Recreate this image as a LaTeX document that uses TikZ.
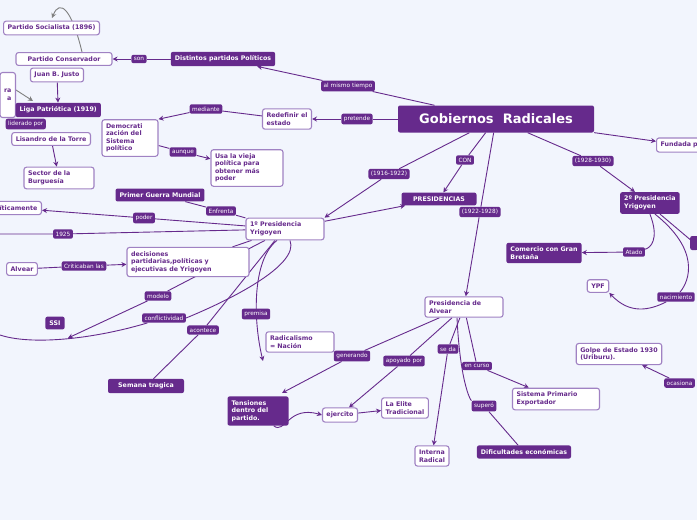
\documentclass[tikz,border=0pt]{standalone}
\usepackage{fontspec}
\setmainfont{DejaVu Sans}
\usetikzlibrary{arrows.meta,backgrounds}
\definecolor{pu}{RGB}{102,42,140}
\definecolor{pl}{RGB}{160,130,195}
\definecolor{bg}{RGB}{242,245,253}
\tikzset{
 wn/.style={draw=pl,line width=1.1pt,fill=white,rounded corners=2.5pt,text=pu,font=\bfseries\fontsize{6.3}{7.5}\selectfont,align=left,inner sep=4pt},
 pn/.style={fill=pu,rounded corners=2pt,text=white,font=\bfseries\fontsize{6.3}{7.5}\selectfont,align=left,inner sep=4pt},
 lb/.style={fill=pu,rounded corners=2pt,text=white,font=\fontsize{5.8}{6.8}\selectfont,inner sep=2.5pt},
 ed/.style={draw=pu,line width=0.9pt},
 ar/.style={ed,-{Stealth[length=5pt,width=5pt]}},
}
\begin{document}
\begin{tikzpicture}[x=1pt,y=-1pt]
\useasboundingbox (0,0) rectangle (697,520);
% nodes
\node[pn,font=\bfseries\fontsize{13}{15}\selectfont,minimum width=196pt,minimum height=27pt,align=center] (title) at (496,119) {Gobiernos~~Radicales};
\node[wn,anchor=east] (soc) at (100,28) {Partido Socialista (1896)};
\node[wn,minimum width=96pt,align=center] (pc) at (64,59) {Partido Conservador};
\node[wn] (jbj) at (57,75) {Juan B. Justo};
\node[wn,anchor=east,minimum height=45pt,align=right] (lft) at (16,95) {ra\\a};
\node[pn,anchor=east] (liga) at (101,110) {Liga Patriótica (1919)};
\node[lb,anchor=east] (lid) at (46,124) {liderado por};
\node[wn,anchor=east] (lis) at (91,139) {Lisandro de la Torre};
\node[wn,text width=62pt] (sec) at (59,178) {Sector de la\\Burguesía};
\node[pn] (dis) at (223,59) {Distintos partidos Políticos};
\node[lb] (son) at (139,59) {son};
\node[lb] (amt) at (348,86) {al mismo tiempo};
\node[wn] (red) at (287,119) {Redefinir el\\estado};
\node[lb] (pre) at (357,119) {pretende};
\node[lb] (med) at (206,109) {mediante};
\node[wn,text width=48pt] (dem) at (130,138) {Democrati\\zación del\\Sistema\\político};
\node[lb] (aun) at (183,152) {aunque};
\node[wn,text width=64pt] (usa) at (247,168) {Usa la vieja\\política para\\obtener más\\poder};
\node[pn] (pgm) at (160,195) {Primer Guerra Mundial};
\node[lb] (enf) at (221,211) {Enfrenta};
\node[wn,anchor=east] (pol) at (42,208) {Políticamente};
\node[lb] (pod) at (144,218) {poder};
\node[lb] (y25) at (63,234) {1925};
\node[wn,text width=70pt] (p1) at (285,229) {1º Presidencia\\Yrigoyen};
\node[wn] (alv) at (22,269) {Alvear};
\node[lb] (cri) at (84,266) {Criticaban las};
\node[wn,text width=114pt] (dec) at (188,262) {decisiones\\partidarias,políticas y\\ejecutivas de Yrigoyen};
\node[lb] (mod) at (158,296) {modelo};
\node[pn] (ssi) at (55,323) {SSI};
\node[lb] (con) at (164,318) {conflictividad};
\node[lb] (aco) at (203,330) {acontece};
\node[lb] (prem) at (256,314) {premisa};
\node[wn,text width=60pt] (rad) at (300,342) {Radicalismo\\= Nación};
\node[pn,minimum width=76pt,align=center] (sem) at (146,386) {Semana tragica};
\node[pn,text width=53pt] (ten) at (258,411) {Tensiones\\dentro del\\partido.};
\node[wn] (eje) at (340,415) {ejercito};
\node[wn] (eli) at (405,408) {La Elite\\Tradicional};
\node[lb] (gen) at (352,356) {generando};
\node[lb] (apo) at (404,361) {apoyado por};
\node[wn,text width=70pt] (pal) at (464,307) {Presidencia de\\Alvear};
\node[lb] (seda) at (448,349) {se da};
\node[lb] (encu) at (477,366) {en curso};
\node[lb] (sup) at (484,406) {superó};
\node[wn,text width=79pt] (spe) at (556,399) {Sistema Primario\\Exportador};
\node[wn] (int) at (432,456) {Interna\\Radical};
\node[pn] (dif) at (524,452) {Dificultades económicas};
\node[lb] (CON) at (465,160) {CON};
\node[lb] (l16) at (389,174) {(1916-1922)};
\node[pn,minimum width=75pt] (pres) at (439,199) {PRESIDENCIAS};
\node[lb] (l22) at (480,212) {(1922-1928)};
\node[lb] (l28) at (593,161) {(1928-1930)};
\node[wn,anchor=west] (fun) at (656,145) {Fundada por};
\node[pn,anchor=west] (p2) at (620,203) {2º Presidencia\\Yrigoyen};
\node[pn] (com) at (544,253) {Comercio con Gran\\Bretaña};
\node[lb] (ata) at (634,252) {Atado};
\node[wn] (ypf) at (598,286) {YPF};
\node[lb] (nac) at (676,297) {nacimiento};
\node[wn] (gol) at (619,354) {Golpe de Estado 1930\\(Uriburu).};
\node[lb,anchor=west] (oca) at (664,383) {ocasiona};
\node[pn,anchor=west,minimum height=14pt] (rp) at (690,243) {};
\begin{pgfonlayer}{background}
\fill[bg] (0,0) rectangle (697,520);
\draw[ar,gray] (pc.north) ++(18,0) .. controls (72,10) and (60,-2) .. (52,18);
\draw[ar,gray] (lft.east) ++(0,-5) -- (33,101);
\draw[ed] (title) -- (amt); \draw[ar] (amt) -- (dis);
\draw[ed] (title) -- (pre); \draw[ar] (pre) -- (red);
\draw[ed] (red) -- (med); \draw[ar] (med) -- (dem.north east);
\draw[ed] (dis) -- (son); \draw[ar] (son) -- (pc);
\draw[ar] (jbj) -- (liga);
\draw[ar] (lis) -- (sec);
\draw[ed] (dem) -- (aun); \draw[ar] (aun) -- (usa);
\draw[ed] (title) -- (CON); \draw[ar] (CON) -- (pres);
\draw[ed] (title) -- (l16); \draw[ar] (l16) -- (p1.north east);
\draw[ar] (p1) -- (pres);
\draw[ed] (title) -- (l22); \draw[ar] (l22) -- (pal);
\draw[ed] (title) -- (l28); \draw[ar] (l28) -- (p2);
\draw[ar] (title) -- (fun);
\draw[ed] (p1) -- (enf) -- (pgm);
\draw[ed] (p1) -- (pod); \draw[ar] (pod) -- (pol);
\draw[ed] (p1) -- (y25) -- (0,234);
\draw[ed] (alv) -- (cri); \draw[ar] (cri) -- (dec);
\draw[ed] (p1) -- (dec);
\draw[ed] (p1.south) ++(-20,0) -- (mod); \draw[ar] (mod) -- (68,338);
\draw[ed] (p1.south) ++(5,0) .. controls (300,265) and (230,300) .. (con.east);
\draw[ed] (con) .. controls (90,340) and (30,345) .. (0,335);
\draw[ed] (p1.south) ++(-10,0) -- (aco) -- (sem);
\draw[ar] (p1.south) ++(-8,0) .. controls (252,260) and (253,320) .. (263,361);
\draw[ed] (pal) -- (gen); \draw[ar] (gen) -- (282,393);
\draw[ed] (pal) -- (apo); \draw[ar] (apo) -- (eje);
\draw[ar] (ten.south east) ++(-15,0) .. controls (285,435) and (288,405) .. (eje.west);
\draw[ar] (eje) -- (eli);
\draw[ed] (pal) -- (seda); \draw[ar] (seda) -- (int);
\draw[ed] (pal) -- (encu); \draw[ar] (encu) -- (spe);
\draw[ed] (pal.south) ++(-7,0) .. controls (460,380) and (470,400) .. (sup);
\draw[ed] (sup) -- (dif);
\draw[ed] (p2.south) .. controls (660,240) and (650,248) .. (ata);
\draw[ar] (ata) -- (com);
\draw[ed] (p2.south) ++(5,0) .. controls (700,250) and (690,280) .. (nac);
\draw[ar] (nac) .. controls (650,310) and (630,315) .. (ypf.south east);
\draw[ar] (oca) -- (gol);
\draw[ed] (p2.south) ++(10,0) -- (rp);
\end{pgfonlayer}
\end{tikzpicture}
\end{document}
